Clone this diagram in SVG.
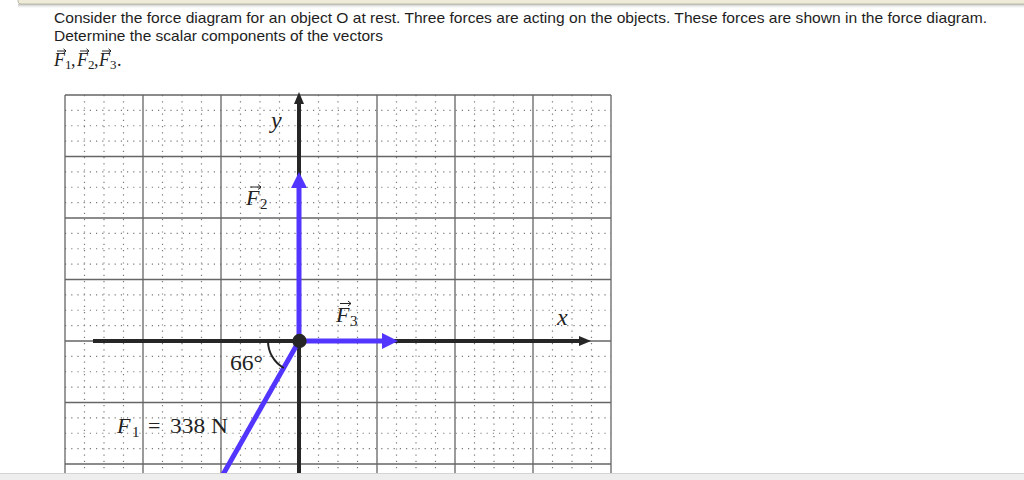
<svg xmlns="http://www.w3.org/2000/svg" width="1024" height="480" viewBox="0 0 1024 480">
<style>
.hdr{font-family:"Liberation Sans",Arial,sans-serif;font-size:15px;fill:#1e1e1e}
.math{font-family:"Liberation Serif","DejaVu Serif",serif;fill:#222}
.it{font-style:italic}
.major{stroke:#666666;stroke-width:1.3;fill:none}
.minor{stroke:#7a7a7a;stroke-width:1.2;stroke-dasharray:1.2 5;fill:none}
.axis{stroke:#262626;stroke-width:4;fill:none}
.force{stroke:#5236ff;stroke-width:5;fill:none}
.vec{stroke:#222;stroke-width:1;fill:none}
</style>
<defs>
<linearGradient id="shadow" x1="0" y1="0" x2="0" y2="1">
<stop offset="0" stop-color="#9a9a9a" stop-opacity="0.7"/>
<stop offset="1" stop-color="#ffffff" stop-opacity="0"/>
</linearGradient>
<marker id="headBlue" viewBox="0 0 16 16" refX="0" refY="8" markerWidth="16" markerHeight="16" markerUnits="userSpaceOnUse" orient="auto">
<path d="M0,0 L16,8 L0,16 z" fill="#5236ff"/>
</marker>
<marker id="headBlack" viewBox="0 0 12 10" refX="0" refY="5" markerWidth="12" markerHeight="10" markerUnits="userSpaceOnUse" orient="auto">
<path d="M0,0 L12,5 L0,10 z" fill="#262626"/>
</marker>
</defs>
<rect width="1024" height="480" fill="#ffffff"/>
<g id="topbar">
<rect x="18" y="4" width="1006" height="5" fill="url(#shadow)"/>
<rect x="18" y="-6" width="1010" height="10" rx="3" fill="#eeecd8" stroke="#bdbba8" stroke-width="1"/>
</g>
<g id="header">
<text class="hdr" x="54" y="23" textLength="933" lengthAdjust="spacingAndGlyphs">Consider the force diagram for an object O at rest. Three forces are acting on the objects. These forces are shown in the force diagram.</text>
<text class="hdr" x="54" y="41" textLength="329" lengthAdjust="spacingAndGlyphs">Determine the scalar components of the vectors</text>
<text class="math" font-size="18" y="66"><tspan x="54" class="it">F</tspan><tspan x="65" y="69" font-size="13">1</tspan><tspan x="71" y="66">,</tspan><tspan x="77" class="it">F</tspan><tspan x="88" y="69" font-size="13">2</tspan><tspan x="94" y="66">,</tspan><tspan x="99" class="it">F</tspan><tspan x="110" y="69" font-size="13">3</tspan><tspan x="117" y="66">.</tspan></text>
<path class="vec" d="M57 51H66M63.5 48.8L66 51L63.5 53.2M80 51H89M86.5 48.8L89 51L86.5 53.2M102 51H111M108.5 48.8L111 51L108.5 53.2"/>
</g>
<g id="grid">
<path class="minor" d="M65 110.4H611M65 125.75H611M65 141.1H611M65 171.9H611M65 187.25H611M65 202.6H611M65 233.4H611M65 248.75H611M65 264.1H611M65 294.9H611M65 310.25H611M65 325.6H611M65 356.4H611M65 371.75H611M65 387.1H611M65 417.9H611M65 433.25H611M65 448.6H611"/>
<path class="minor" d="M84.5 95V480M104 95V480M123.5 95V480M162.5 95V480M182 95V480M201.5 95V480M240.5 95V480M260 95V480M279.5 95V480M318.5 95V480M338 95V480M357.5 95V480M396.5 95V480M416 95V480M435.5 95V480M474.5 95V480M494 95V480M513.5 95V480M552.5 95V480M572 95V480M591.5 95V480"/>
<path class="major" d="M65 95H611M65 156.5H611M65 218H611M65 279.5H611M65 341H611M65 402.5H611M65 464H611"/>
<path class="major" d="M65 95V480M143 95V480M221 95V480M299 95V480M377 95V480M455 95V480M533 95V480M611 95V480"/>
</g>
<g id="axes">
<path class="axis" d="M93 341H579" marker-end="url(#headBlack)"/>
<path class="axis" d="M299 480V104" marker-end="url(#headBlack)"/>
</g>
<g id="connectors">
<path class="force" d="M299 341V188" marker-end="url(#headBlue)"/>
<path class="force" d="M299 341H382" marker-end="url(#headBlue)"/>
<path class="force" d="M299 341L221 478"/>
<path id="angle-arc" d="M268 341A31 31 0 0 0 283.7 368" stroke="#222" stroke-width="2" fill="none"/>
</g>
<g id="origin">
<circle cx="299.5" cy="341" r="7.2" fill="#262626"/>
</g>
<g id="label-y">
<text class="math it" font-size="24" x="271" y="128">y</text>
</g>
<g id="label-x">
<text class="math it" font-size="24" x="557" y="325">x</text>
</g>
<g id="label-F2">
<text class="math" font-size="22" y="205"><tspan class="it" x="246">F</tspan><tspan x="260" y="209" font-size="15">2</tspan></text>
<path class="vec" d="M250 187H261M258 184.5L261 187L258 189.5"/>
</g>
<g id="label-F3">
<text class="math" font-size="22" y="322"><tspan class="it" x="336">F</tspan><tspan x="350" y="326" font-size="15">3</tspan></text>
<path class="vec" d="M340 303.5H351M348 301L351 303.5L348 306"/>
</g>
<g id="label-angle">
<text class="math" font-size="22" x="230" y="370" textLength="33" lengthAdjust="spacingAndGlyphs">66°</text>
</g>
<g id="label-F1">
<text class="math" font-size="22" y="433"><tspan class="it" x="117">F</tspan><tspan x="132" y="437" font-size="15">1</tspan><tspan x="148" y="433">=</tspan></text>
<text class="math" font-size="22" x="170" y="433" textLength="58" lengthAdjust="spacingAndGlyphs">338 N</text>
</g>
<g id="bottombar">
<rect x="0" y="473" width="1024" height="7" fill="#eeeeee"/>
<path d="M0 473.5H1024" stroke="#d4d4d4" stroke-width="1"/>
</g>
</svg>
